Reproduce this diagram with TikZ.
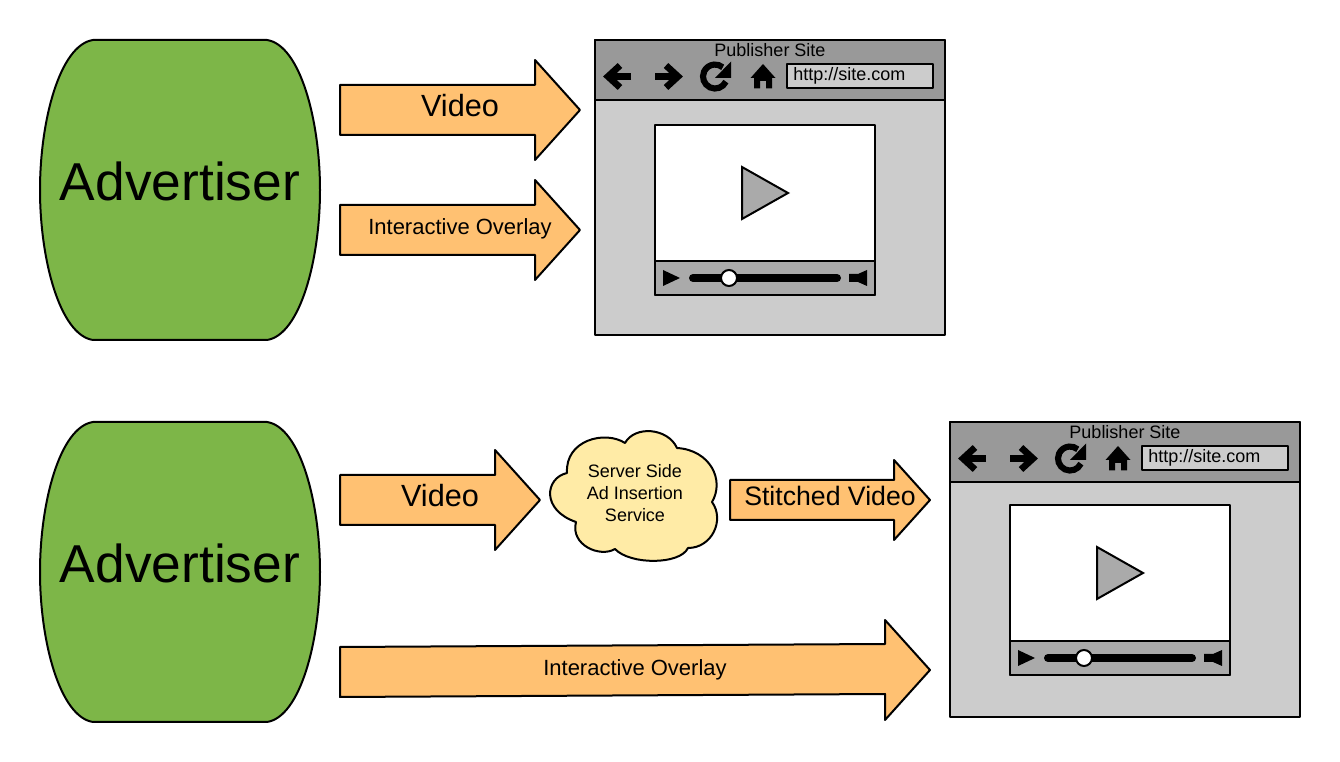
\documentclass[tikz,border=0pt]{standalone}
\usepackage{fontspec}
\setmainfont{Liberation Sans}
\definecolor{advgreen}{HTML}{7DB648}
\definecolor{arrorange}{HTML}{FFC172}
\definecolor{cloudyel}{HTML}{FFEBA6}
\definecolor{hdrgray}{HTML}{999999}
\definecolor{bodygray}{HTML}{CCCCCC}
\definecolor{ctrlgray}{HTML}{AAAAAA}
\tikzset{
  outline/.style={draw=black,line width=1.5pt,line join=round},
  blockarrow/.style={outline,fill=arrorange},
  lbl/.style={inner sep=0pt,align=center,text=black},
  icon/.style={line width=5pt,draw=black},
}
\newcommand{\advertiser}[2]{%
  \begin{scope}[shift={(0,#2)}]
    \draw[outline,fill=advgreen] (93,40) -- (267,40) .. controls (300,45) and (320,120) .. (320,190)
      .. controls (320,260) and (300,335) .. (267,340) -- (93,340)
      .. controls (60,335) and (40,260) .. (40,190) .. controls (40,120) and (60,45) .. (93,40) -- cycle;
    \node[lbl,font=\fontsize{40}{44}\selectfont] (#1) at (180,181.5) {Advertiser};
  \end{scope}}
\newcommand{\browser}[4]{%
  \begin{scope}[shift={(#2,#3)}]
    \draw[outline,fill=bodygray] (595,40) rectangle (945,335);
    \draw[outline,fill=hdrgray] (595,40) rectangle (945,100);
    \node[lbl,font=\fontsize{13.5}{14}\selectfont] (#1title) at (770,50) {Publisher Site};
    \draw[outline,fill=bodygray] (787,64) rectangle (933,88);
    \node[lbl,font=\fontsize{13.5}{14}\selectfont,anchor=west] (#1url) at (793,75.5) {http://site.com};
    % back and forward
    \draw[icon] (631,76.5) -- (609,76.5);
    \draw[icon,line join=miter] (620,65.5) -- (608,76.5) -- (620,87.5);
    \draw[icon] (655,76.5) -- (677,76.5);
    \draw[icon,line join=miter] (666,65.5) -- (678,76.5) -- (666,87.5);
    % reload
    \draw[line width=4.6pt,draw=black] (725.9,81.6) arc[start angle=25,end angle=310,radius=12];
    \fill[black] (731,61.5) -- (731,78) -- (715,78) -- cycle;
    % home
    \fill[black] (750.5,78) -- (763,64) -- (775.5,78) -- (772,78) -- (772,88.5) -- (766,88.5) -- (766,81)
      -- (760,81) -- (760,88.5) -- (754,88.5) -- (754,78) -- cycle;
    % player
    \begin{scope}[shift={(0,#4)}]
      \draw[outline,fill=white] (655,125) rectangle (875,295);
      \draw[outline,fill=ctrlgray] (655,261) rectangle (875,295);
      \draw[line width=1.5pt,draw=black,fill=ctrlgray,line join=miter] (742,167) -- (788,193) -- (742,219) -- cycle;
      \fill[black] (663,270) -- (680,278) -- (663,286) -- cycle;
      \draw[line width=6pt,line cap=round,draw=black] (693,278) -- (837,278);
      \draw[line width=1.5pt,draw=black,fill=white] (729,278) circle (8);
      \fill[black] (849,274) -- (858,274) -- (867,270) -- (867,286) -- (858,282) -- (849,282) -- cycle;
    \end{scope}
  \end{scope}}
\begin{document}
\begin{tikzpicture}[x=0.75pt,y=-0.75pt]
\useasboundingbox (0,0) rectangle (1340,762);
\advertiser{advA}{0}
\advertiser{advB}{382}
% arrows
\draw[blockarrow] (340,85) -- (535,85) -- (535,60) -- (580,110) -- (535,160) -- (535,135) -- (340,135) -- cycle;
\node[lbl,font=\fontsize{23}{24}\selectfont] (videoA) at (460,106) {Video};
\draw[blockarrow] (340,205) -- (535,205) -- (535,180) -- (580,230) -- (535,280) -- (535,255) -- (340,255) -- cycle;
\node[lbl,font=\fontsize{16.5}{18}\selectfont] (overlayA) at (460,229) {Interactive Overlay};
\draw[blockarrow] (340,475) -- (495,475) -- (495,450) -- (540,500) -- (495,550) -- (495,525) -- (340,525) -- cycle;
\node[lbl,font=\fontsize{23}{24}\selectfont] (videoB) at (440,496) {Video};
\draw[blockarrow] (730,480) -- (894,480) -- (894,460) -- (930,500) -- (894,540) -- (894,520) -- (730,520) -- cycle;
\node[lbl,font=\fontsize{20}{21}\selectfont] (stitched) at (830,496) {Stitched Video};
\draw[blockarrow] (340,647) -- (885,644) -- (885,620) -- (930,670) -- (885,720) -- (885,694) -- (340,697) -- cycle;
\node[lbl,font=\fontsize{16.5}{18}\selectfont] (overlayB) at (635,670) {Interactive Overlay};
% cloud
\draw[outline,fill=cloudyel] (567,473) .. controls (545,478) and (541,510) .. (576,522)
  .. controls (570,545) and (600,558) .. (615,549)
  .. controls (630,565) and (680,565) .. (688,548)
  .. controls (712,548) and (725,520) .. (712,502)
  .. controls (725,480) and (710,450) .. (677,448)
  .. controls (668,428) and (635,425) .. (625,443)
  .. controls (605,430) and (565,440) .. (567,473) -- cycle;
\node[lbl,font=\fontsize{13.5}{16.2}\selectfont] (cloudtext) at (635,493) {Server Side\\Ad Insertion\\Service};
\browser{brA}{0}{0}{0}
\browser{brB}{355}{382}{-2}
\end{tikzpicture}
\end{document}
